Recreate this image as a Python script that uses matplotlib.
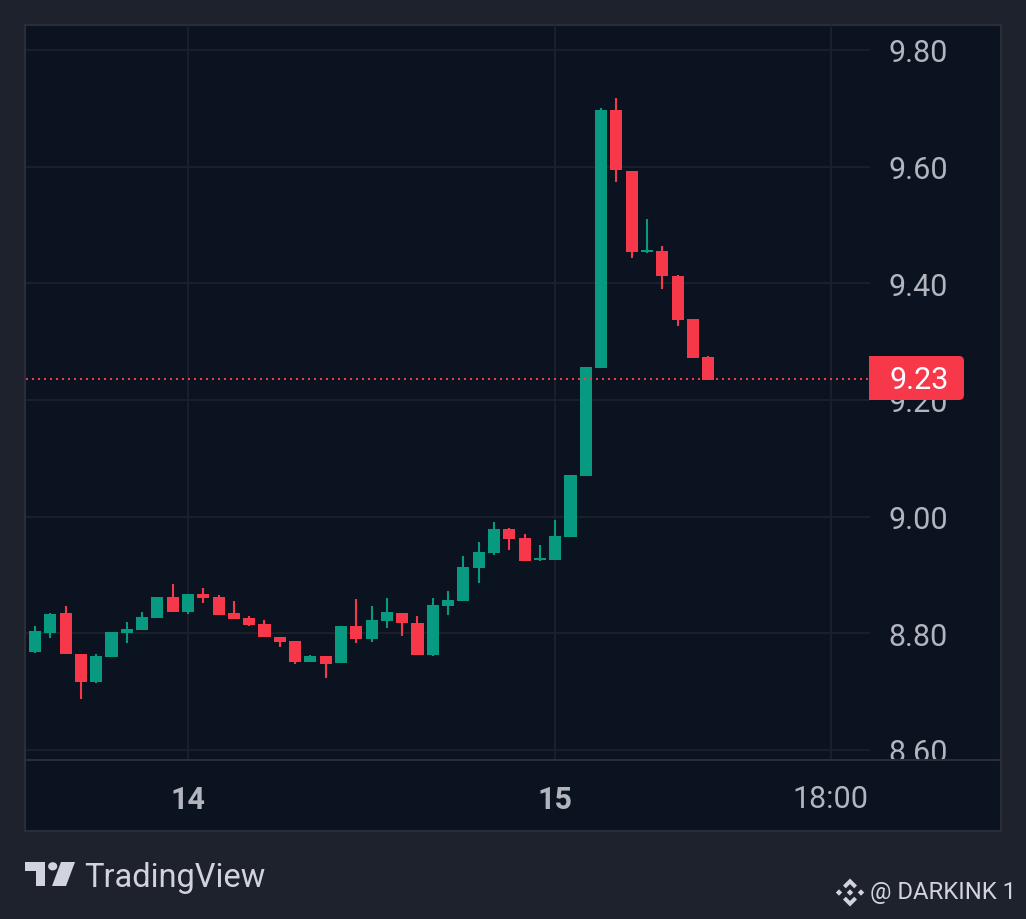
import matplotlib
matplotlib.use("Agg")
import matplotlib.pyplot as plt
from matplotlib.patches import Polygon, Circle, Rectangle, PathPatch
from matplotlib.path import Path
from matplotlib.transforms import Bbox

highs = [8.812,8.835,8.847,8.765,8.765,8.802,8.819,8.837,8.862,8.885,8.867,8.878,8.866,8.855,8.830,
         8.823,8.794,8.787,8.763,8.761,8.812,8.859,8.847,8.860,8.835,8.830,8.860,8.873,8.933,8.957,
         8.991,8.981,8.970,8.951,8.994,9.071,9.257,9.700,9.718,9.592,9.510,9.464,9.414,9.339,9.275]
tops = [8.804,8.833,8.835,8.765,8.761,8.802,8.807,8.828,8.862,8.862,8.867,8.867,8.862,8.835,8.826,
        8.816,8.794,8.787,8.761,8.761,8.812,8.812,8.823,8.837,8.835,8.818,8.848,8.857,8.914,8.939,
        8.979,8.979,8.963,8.929,8.967,9.071,9.257,9.697,9.697,9.592,9.457,9.455,9.412,9.339,9.274]
bottoms = [8.768,8.800,8.765,8.716,8.716,8.759,8.800,8.806,8.826,8.837,8.837,8.860,8.831,8.825,8.814,
           8.794,8.785,8.751,8.751,8.747,8.749,8.790,8.790,8.821,8.818,8.763,8.763,8.847,8.855,8.912,
           8.938,8.962,8.924,8.926,8.926,8.965,9.070,9.255,9.594,9.454,9.454,9.412,9.337,9.272,9.234]
lows = [8.766,8.792,8.765,8.687,8.715,8.759,8.783,8.806,8.826,8.837,8.833,8.852,8.831,8.825,8.812,
        8.794,8.776,8.747,8.751,8.723,8.749,8.783,8.785,8.809,8.795,8.763,8.761,8.831,8.855,8.886,
        8.934,8.943,8.924,8.924,8.926,8.965,9.070,9.255,9.574,9.443,9.452,9.390,9.327,9.272,9.234]
directions = list("GGRRGGGGGRGRRRRRRRGRGRGGRRGGGGGRRGGGGGRRGRRRR")
price_ticks = [8.60, 8.80, 9.00, 9.20, 9.40, 9.60, 9.80]
time_ticks = [10, 34, 52]
time_labels = ["14", "15", "18:00"]
last_price = 9.236
last_label = "9.23"

W, H = 1026, 920
BG = "#1e222d"; PANEL = "#0c1320"; BORDER = "#2a2e39"; GRID = "#1b202b"
GREEN = "#089981"; RED = "#f7374a"; TXT = "#b2b5be"; LOGO = "#d1d4dc"
FONT = "Roboto"

def fx(x): return x / W
def fy(y): return 1 - y / H

fig = plt.figure(figsize=(W / 100, H / 100), dpi=100, facecolor=BG)

# chart frame
fig.add_artist(Rectangle((fx(25), fy(831.5)), 976 / W, 806 / H, transform=fig.transFigure,
                         facecolor=PANEL, edgecolor=BORDER, lw=1.5, zorder=-1))

ax = fig.add_axes([fx(26), fy(761), 844 / W, 735 / H], facecolor="none", zorder=1)
ax.set_xlim((26 - 35) / 15.3, (870 - 35) / 15.3)
ax.set_ylim(9.80 - (760 - 50) / 583.33, 9.80 + (51 - 26) / 583.33)
for s in ax.spines.values():
    s.set_visible(False)

ax.set_axisbelow(True)
ax.grid(True, color=GRID, lw=1.4)
ax.yaxis.tick_right()
ax.set_yticks(price_ticks, [f"{v:.2f}" for v in price_ticks])
ax.set_xticks(time_ticks, time_labels)
ax.tick_params(axis="both", length=0)
ax.tick_params(axis="y", pad=13.5, labelcolor=TXT, labelsize=22)
ax.tick_params(axis="x", pad=17, labelcolor=TXT, labelsize=22)
clip = Bbox([[0, H - 761], [W, H]])
for lab in ax.get_yticklabels():
    lab.set_fontfamily(FONT)
    lab.set_clip_box(clip)
    lab.set_clip_on(True)
for lab, tl in zip(ax.get_xticklabels(), time_labels):
    lab.set_fontfamily(FONT)
    if ":" not in tl:
        lab.set_fontweight("bold")

idx = list(range(len(tops)))
colors = [GREEN if d == "G" else RED for d in directions]
ax.vlines(idx, lows, highs, colors=colors, lw=1.5, zorder=3)
ax.bar(idx, [t - b for t, b in zip(tops, bottoms)], bottom=bottoms, width=0.785,
       color=colors, linewidth=0, zorder=4)
ax.axhline(last_price, color=RED, lw=1.44, dashes=(1, 2), zorder=5)

# separator between plot and time scale
fig.add_artist(Rectangle((fx(26), fy(762)), 974 / W, 2 / H, transform=fig.transFigure,
                         facecolor=BORDER, edgecolor="none", zorder=3))

# last price tag
ly0, ly1 = fy(357), fy(401)
x0, x1, r = fx(869), fx(964), 5 / W
ry = 5 / H
verts = [(x0, ly0), (x1 - r, ly0), (x1, ly0), (x1, ly0 - ry), (x1, ly1 + ry), (x1, ly1),
         (x1 - r, ly1), (x0, ly1), (x0, ly0)]
codes = [Path.MOVETO, Path.LINETO, Path.CURVE3, Path.CURVE3, Path.LINETO, Path.CURVE3,
         Path.CURVE3, Path.LINETO, Path.CLOSEPOLY]
fig.add_artist(PathPatch(Path(verts, codes), transform=fig.transFigure, facecolor=RED,
                         edgecolor="none", zorder=6))
fig.text(fx(919), fy(380.5), last_label, color="white", fontsize=22, family=FONT,
         ha="center", va="center", zorder=7)

# TradingView logo
def poly(pts, color=LOGO):
    fig.add_artist(Polygon([(fx(x), fy(y)) for x, y in pts], closed=True, transform=fig.transFigure,
                           facecolor=color, edgecolor="none", zorder=6))

poly([(25, 863), (45, 863), (45, 887), (36, 887), (36, 872), (25, 872)])
poly([(61, 863), (75, 863), (66, 887), (52, 887)])
fig.add_artist(Circle((fx(52.7), fy(867.3)), 4.6 / W, transform=fig.transFigure, facecolor=LOGO,
                      edgecolor="none", zorder=6))
fig.text(fx(84), fy(878), "TradingView", color=LOGO, fontsize=23.5, family=FONT,
         ha="left", va="center", zorder=7)

# Binance mark and signature
cx, cy = 850, 893.5
poly([(cx, cy - 14), (cx + 7, cy - 7), (cx + 4.2, cy - 4.2), (cx, cy - 8.4), (cx - 4.2, cy - 4.2), (cx - 7, cy - 7)])
poly([(cx, cy + 14), (cx + 7, cy + 7), (cx + 4.2, cy + 4.2), (cx, cy + 8.4), (cx - 4.2, cy + 4.2), (cx - 7, cy + 7)])
for dx in (-11, 0, 11):
    poly([(cx + dx - 3.2, cy), (cx + dx, cy - 3.2), (cx + dx + 3.2, cy), (cx + dx, cy + 3.2)])
fig.text(fx(870), fy(893), "@ DARKINK 1", color=LOGO, fontsize=17.2, family=FONT,
         ha="left", va="center", zorder=7)

fig.savefig("out.png", dpi=100, facecolor=BG)
